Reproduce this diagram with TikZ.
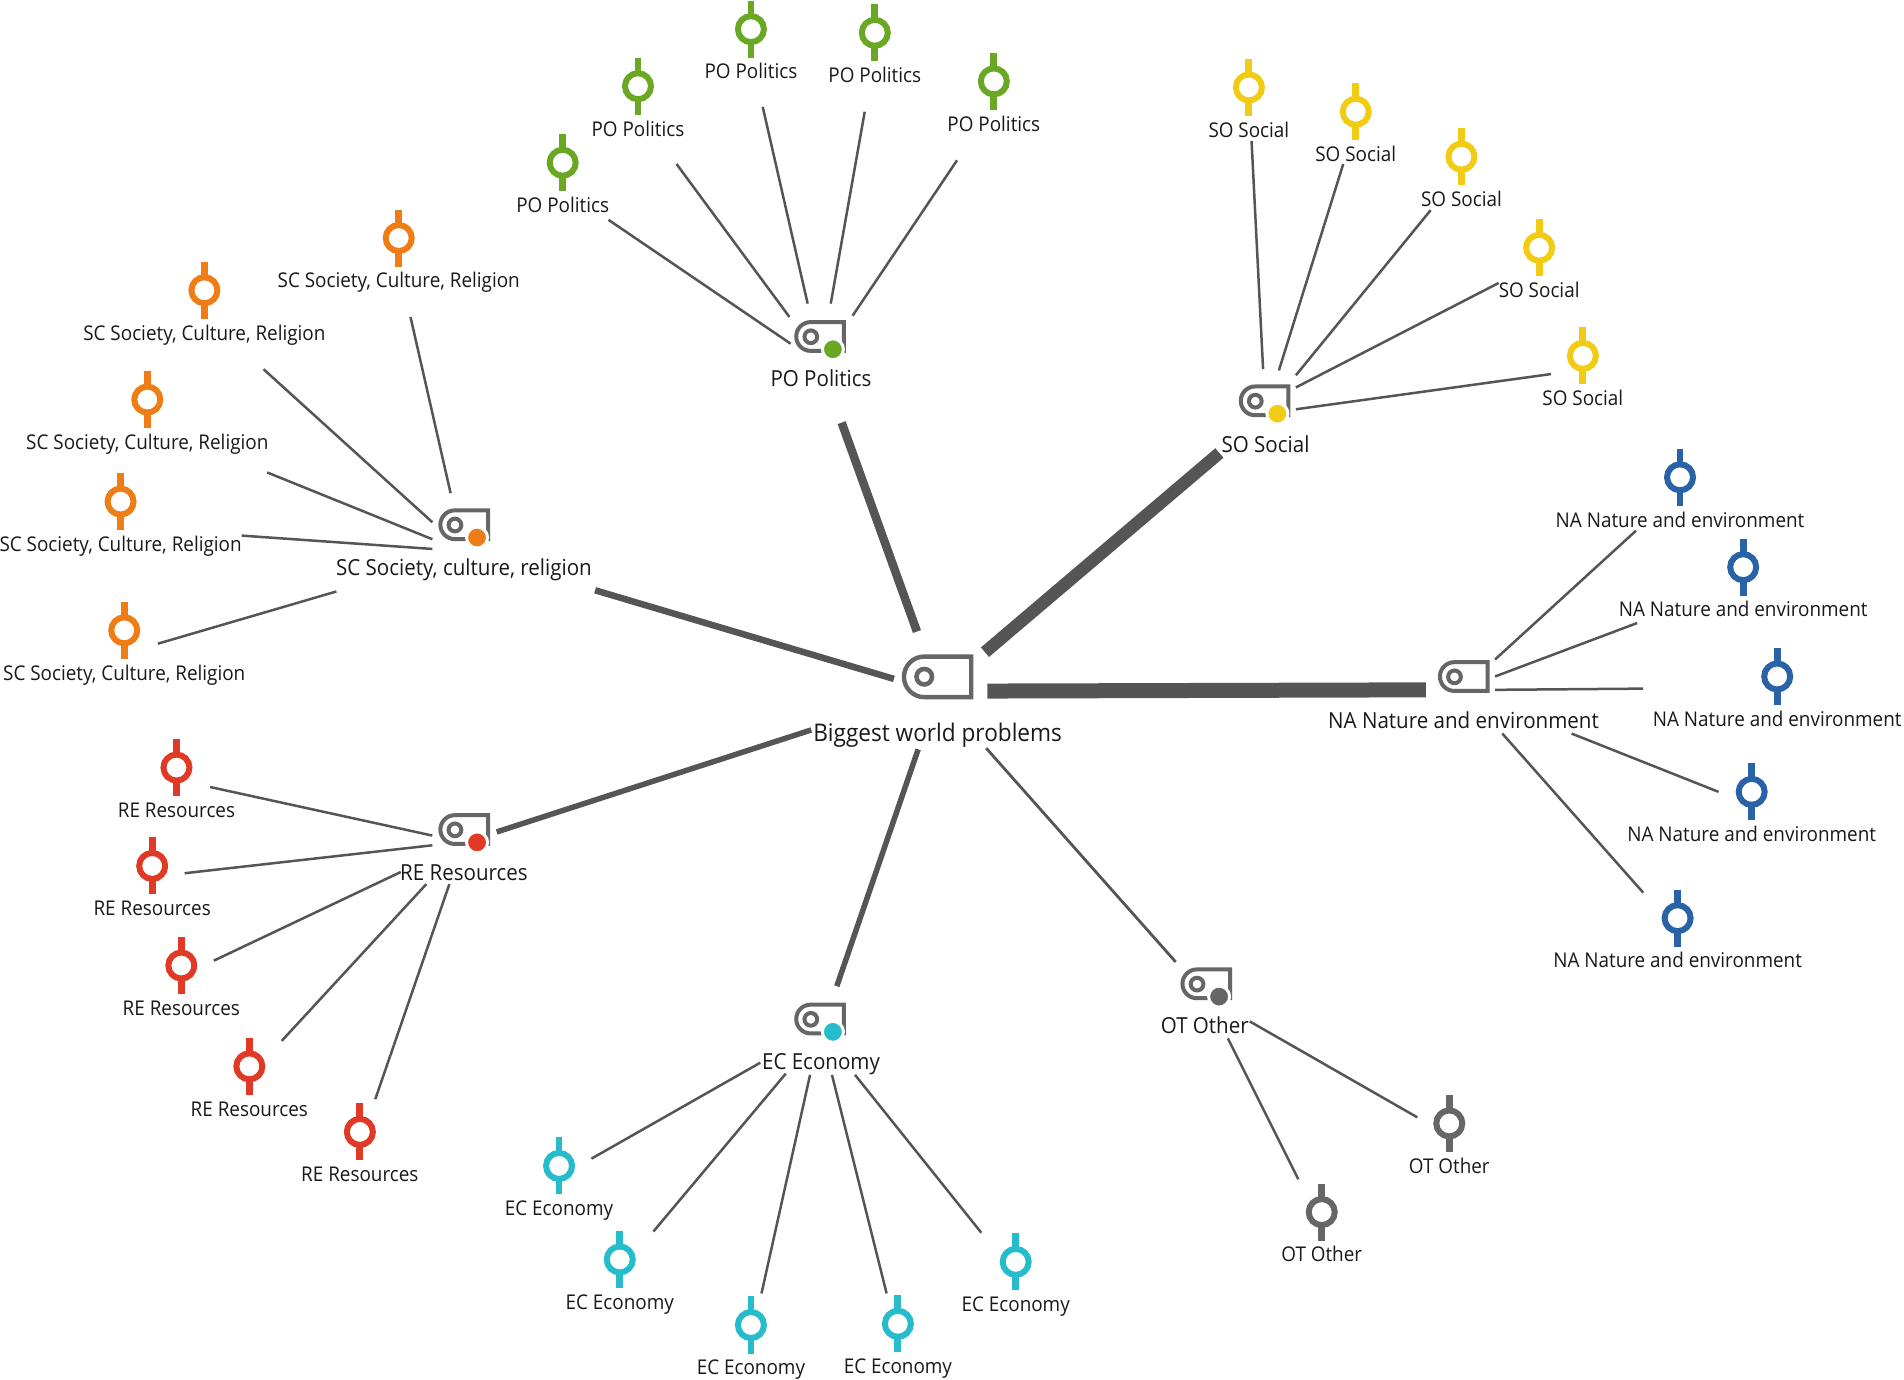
\documentclass[tikz,border=0pt]{standalone}
\usepackage{fontspec}
\setmainfont[FakeStretch=0.93]{Open Sans}
\definecolor{cSC}{HTML}{EF7D16}
\definecolor{cPO}{HTML}{6AA823}
\definecolor{cSO}{HTML}{F2CB14}
\definecolor{cNA}{HTML}{2A62A8}
\definecolor{cRE}{HTML}{E03A26}
\definecolor{cEC}{HTML}{26BCCB}
\definecolor{cOT}{HTML}{666666}
\definecolor{linec}{HTML}{555555}
\definecolor{iconc}{HTML}{666666}
\tikzset{
  leaflabel/.style={inner sep=0pt,anchor=base,font=\fontsize{20.3}{24}\selectfont,text=black!90},
  hublabel/.style={inner sep=0pt,anchor=base,font=\fontsize{22.1}{26}\selectfont,text=black!90},
  mainlabel/.style={inner sep=0pt,anchor=base,font=\fontsize{24.3}{28}\selectfont,text=black!90},
  ring/.style={circle,minimum size=26pt,inner sep=0pt,line width=6pt},
  iconline/.style={draw=iconc,line width=4pt,line join=miter},
  iconring/.style={circle,draw=iconc,line width=4pt,minimum size=12.7pt,inner sep=0pt},
}
% name, x, y, colour, text
\newcommand{\leafn}[5]{%
  \draw[draw=#4,line width=6.8pt] (#2+0.3,#3-23.5) -- (#2+0.3,#3+23.5);
  \node[ring,draw=#4,fill=white] (#1) at (#2+0.3,#3) {};
  \node[leaflabel] (#1-t) at (#2+0.3,#3+41) {#5};
}
% name, left x, top y, colour
\newcommand{\hubn}[4]{%
  \begin{scope}[shift={(#2+0.6,#3+0.2)}]
    \draw[iconline] (39.3,0) -- (11.85,0) arc[start angle=270,end angle=90,radius=11.85] -- (39.3,23.7) -- cycle;
    \node[iconring] (#1-c) at (12,12.1) {};
    \node[circle,fill=#4,draw=white,line width=3pt,minimum size=21pt,inner sep=0pt] (#1-d) at (30.2,22.4) {};
  \end{scope}
}
% width, name, start, end
\newcommand{\conn}[4]{%
  \coordinate (#2-a) at (#3);
  \coordinate (#2-b) at (#4);
  \draw[draw=linec,line width=#1] (#2-a) -- (#2-b);
}
\begin{document}
\begin{tikzpicture}[x=1.2145pt,y=-1.2145pt]
\useasboundingbox (0,0) rectangle (1567.72,1135.45);
\fill[white] (0,0) rectangle (1567.72,1135.45);
% main
\begin{scope}[shift={(744.3,540.6)}]
  \draw[draw=iconc,line width=4.4pt,line join=miter] (55.4,0) -- (16.7,0) arc[start angle=270,end angle=90,radius=16.7] -- (55.4,33.4) -- cycle;
  \node[circle,draw=iconc,line width=4.6pt,minimum size=15.5pt,inner sep=0pt] (main) at (16.7,16.6) {};
\end{scope}
\node[mainlabel] (main-t) at (772,610.5) {Biggest world problems};
% hub icons
\hubn{po}{655}{265}{cPO}
\hubn{so}{1021}{318}{cSO}
\node[hublabel] (po-t) at (676,318.5) {PO Politics};
\node[hublabel] (so-t) at (1042,372.5) {SO Social};
\begin{scope}[shift={(1185.6,545.2)}]
  \draw[iconline] (39.3,0) -- (11.85,0) arc[start angle=270,end angle=90,radius=11.85] -- (39.3,23.7) -- cycle;
  \node[iconring] (na-c) at (12,12.1) {};
\end{scope}
\node[hublabel] (na-t) at (1205,599.5) {NA Nature and environment};
\hubn{sc}{362}{420}{cSC}
\node[hublabel] (sc-t) at (382,474) {SC Society, culture, religion};
\hubn{re}{362}{671}{cRE}
\node[hublabel] (re-t) at (382,725) {RE Resources};
\hubn{ec}{655}{827}{cEC}
\node[hublabel] (ec-t) at (676,881) {EC Economy};
\hubn{ot}{973}{798}{cOT}
\node[hublabel] (ot-t) at (992,851) {OT Other};
% thick connectors
\conn{8.5pt}{m-po}{755,520}{693,348}
\conn{12.5pt}{m-so}{811,537}{1004,373}
\conn{15pt}{m-na}{813,569}{1174,568}
\conn{6.5pt}{m-sc}{736,559}{490,486}
\conn{5.5pt}{m-re}{668,601}{409,685}
\conn{5.5pt}{m-ec}{756,617}{689,812}
\conn{2.8pt}{m-ot}{812,616}{968,792}
% PO
\leafn{po1}{463}{134}{cPO}{PO Politics}
\leafn{po2}{525}{71}{cPO}{PO Politics}
\leafn{po3}{618}{24}{cPO}{PO Politics}
\leafn{po4}{720}{27}{cPO}{PO Politics}
\leafn{po5}{818}{67}{cPO}{PO Politics}
\conn{2.5pt}{po-1}{501,181}{651,283}
\conn{2.5pt}{po-2}{557,135}{650,261}
\conn{2.5pt}{po-3}{628,88}{665,250}
\conn{2.5pt}{po-4}{712,92}{684,250}
\conn{2.5pt}{po-5}{788,132}{702,260}
% SO
\leafn{so1}{1028}{72}{cSO}{SO Social}
\leafn{so2}{1116}{92}{cSO}{SO Social}
\leafn{so3}{1203}{129}{cSO}{SO Social}
\leafn{so4}{1267}{204}{cSO}{SO Social}
\leafn{so5}{1303}{293}{cSO}{SO Social}
\conn{2.5pt}{so-1}{1030.5,116}{1040,304}
\conn{2.5pt}{so-2}{1106,135}{1053,305}
\conn{2.5pt}{so-3}{1178,173}{1067,309}
\conn{2.5pt}{so-4}{1234,233}{1067,319}
\conn{2.5pt}{so-5}{1277,308}{1067,337}
% NA
\leafn{na1}{1383}{393}{cNA}{NA Nature and environment}
\leafn{na2}{1435}{467}{cNA}{NA Nature and environment}
\leafn{na3}{1463}{557}{cNA}{NA Nature and environment}
\leafn{na4}{1442}{652}{cNA}{NA Nature and environment}
\leafn{na5}{1381}{756}{cNA}{NA Nature and environment}
\conn{2.5pt}{na-1}{1347,437}{1231,543}
\conn{2.5pt}{na-2}{1348,513}{1231,557}
\conn{2.5pt}{na-3}{1353,567}{1231,568}
\conn{2.5pt}{na-4}{1415,652}{1294,604}
\conn{2.5pt}{na-5}{1353,735}{1237,604}
% SC
\leafn{sc1}{328}{196}{cSC}{SC Society, Culture, Religion}
\leafn{sc2}{168}{239}{cSC}{SC Society, Culture, Religion}
\leafn{sc3}{121}{329}{cSC}{SC Society, Culture, Religion}
\leafn{sc4}{99}{413}{cSC}{SC Society, Culture, Religion}
\leafn{sc5}{102}{519}{cSC}{SC Society, Culture, Religion}
\conn{2.5pt}{sc-1}{338,261}{371,406}
\conn{2.5pt}{sc-2}{217,304}{356,430}
\conn{2.5pt}{sc-3}{220,389}{356,444}
\conn{2.5pt}{sc-4}{199,441}{356,452}
\conn{2.5pt}{sc-5}{130,530}{277,487}
% RE
\leafn{re1}{145}{632}{cRE}{RE Resources}
\leafn{re2}{125}{713}{cRE}{RE Resources}
\leafn{re3}{149}{795}{cRE}{RE Resources}
\leafn{re4}{205}{878}{cRE}{RE Resources}
\leafn{re5}{296}{932}{cRE}{RE Resources}
\conn{2.5pt}{re-1}{173,648}{356,688}
\conn{2.5pt}{re-2}{152,719}{356,696}
\conn{2.5pt}{re-3}{176,791}{330,718}
\conn{2.5pt}{re-4}{232,857}{351,728}
\conn{2.5pt}{re-5}{309,905}{370,728}
% EC
\leafn{ec1}{460}{960}{cEC}{EC Economy}
\leafn{ec2}{510}{1037}{cEC}{EC Economy}
\leafn{ec3}{618}{1091}{cEC}{EC Economy}
\leafn{ec4}{739}{1090}{cEC}{EC Economy}
\leafn{ec5}{836}{1039}{cEC}{EC Economy}
\conn{2.5pt}{ec-1}{487,954}{626,875}
\conn{2.5pt}{ec-2}{538,1014}{647,884}
\conn{2.5pt}{ec-3}{627,1065}{667,885}
\conn{2.5pt}{ec-4}{730,1065}{685,885}
\conn{2.5pt}{ec-5}{808,1015}{704,885}
% OT
\leafn{ot1}{1193}{925}{cOT}{OT Other}
\leafn{ot2}{1088}{998}{cOT}{OT Other}
\conn{2.5pt}{ot-1}{1029,841}{1167,920}
\conn{2.5pt}{ot-2}{1011,855}{1069,971}
\end{tikzpicture}
\end{document}
